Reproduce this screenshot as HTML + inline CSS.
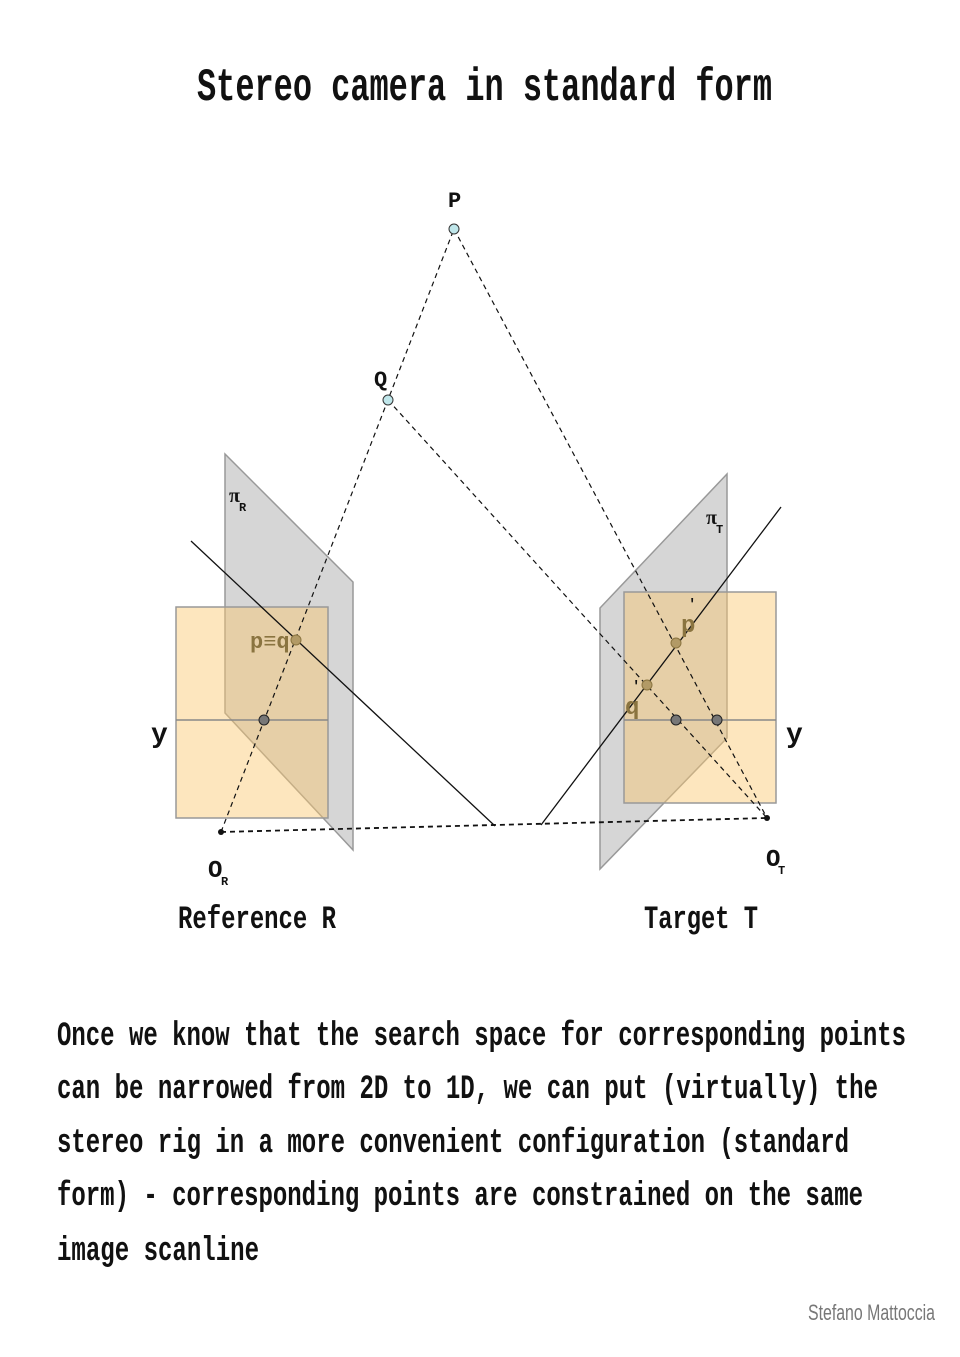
<!DOCTYPE html>
<html><head><meta charset="utf-8"><style>html,body{margin:0;padding:0;background:#fff}svg{display:block}</style></head>
<body>
<svg width="960" height="1357" viewBox="0 0 960 1357" xmlns="http://www.w3.org/2000/svg">
<g font-family="Liberation Mono, monospace" font-weight="bold" fill="#111">
<text x="197" y="100" font-size="46" textLength="575" lengthAdjust="spacingAndGlyphs">Stereo camera in standard form</text>
</g>
<!-- left plane -->
<polygon points="225,454 353,582 353,850 225,713" fill="#d6d6d6" stroke="#999" stroke-width="1.5"/>
<rect x="176" y="607" width="152" height="211" fill="rgb(250,200,110)" fill-opacity="0.45" stroke="#999" stroke-width="1.5"/>
<line x1="176" y1="720" x2="328" y2="720" stroke="#888" stroke-width="1.5"/>
<!-- right plane -->
<polygon points="727,474 727,738 600,869 600,608" fill="#d6d6d6" stroke="#999" stroke-width="1.5"/>
<rect x="624" y="592" width="152" height="211" fill="rgb(250,200,110)" fill-opacity="0.45" stroke="#999" stroke-width="1.5"/>
<line x1="624" y1="720" x2="776" y2="720" stroke="#888" stroke-width="1.5"/>
<!-- solid lines -->
<line x1="191" y1="541" x2="495" y2="826" stroke="#111" stroke-width="1.3"/>
<line x1="541" y1="825" x2="781" y2="507" stroke="#111" stroke-width="1.3"/>
<!-- dashed -->
<g stroke="#111" stroke-width="1.2" stroke-dasharray="5,4" fill="none">
<line x1="221" y1="832" x2="454" y2="229"/>
<line x1="454" y1="229" x2="767" y2="818"/>
<line x1="388" y1="400" x2="767" y2="818"/>
<line x1="221" y1="832" x2="767" y2="818" stroke-width="1.8"/>
</g>
<!-- points -->
<circle cx="454" cy="229" r="5" fill="#bfe6ea" stroke="#333"/>
<circle cx="388" cy="400" r="5" fill="#bfe6ea" stroke="#333"/>
<circle cx="264" cy="720" r="5" fill="#777" stroke="#222"/>
<circle cx="296" cy="640" r="5" fill="#b29a66" stroke="#8a7440"/>
<circle cx="676" cy="720" r="5" fill="#777" stroke="#222"/>
<circle cx="717" cy="720" r="5" fill="#777" stroke="#222"/>
<circle cx="676" cy="643" r="5" fill="#b29a66" stroke="#8a7440"/>
<circle cx="647" cy="685" r="5" fill="#b29a66" stroke="#8a7440"/>
<circle cx="221" cy="832" r="3" fill="#111"/>
<circle cx="767" cy="818" r="3" fill="#111"/>
<g font-family="Liberation Mono, monospace" font-weight="bold" fill="#111">
<text x="448" y="207" font-size="22">P</text>
<text x="374" y="386" font-size="22">Q</text>
<text x="229" y="502" font-size="20" font-family="Liberation Serif, serif">π</text><text x="239" y="511" font-size="12">R</text>
<text x="706" y="524" font-size="20" font-family="Liberation Serif, serif">π</text><text x="716" y="533" font-size="12">T</text>
<text x="250" y="648" font-size="22" fill="#8a7440">p≡q</text>
<text x="681" y="632" font-size="24" fill="#8a7440">p</text><text x="688" y="608" font-size="14">'</text>
<text x="625" y="714" font-size="24" fill="#8a7440">q</text><text x="632" y="690" font-size="14">'</text>
<text x="151" y="742" font-size="28">y</text>
<text x="786" y="742" font-size="28">y</text>
<text x="208" y="877" font-size="24">O</text><text x="221" y="885" font-size="12">R</text>
<text x="766" y="866" font-size="24">O</text><text x="778" y="874" font-size="12">T</text>
<text x="178" y="928" font-size="32" textLength="158" lengthAdjust="spacingAndGlyphs">Reference R</text>
<text x="644" y="928" font-size="32" textLength="114" lengthAdjust="spacingAndGlyphs">Target T</text>
<g font-size="34" font-weight="normal" style="font-weight:600">
<text x="57" y="1045" textLength="849" lengthAdjust="spacingAndGlyphs">Once we know that the search space for corresponding points</text>
<text x="57" y="1098" textLength="821" lengthAdjust="spacingAndGlyphs">can be narrowed from 2D to 1D, we can put (virtually) the</text>
<text x="57" y="1152" textLength="792" lengthAdjust="spacingAndGlyphs">stereo rig in a more convenient configuration (standard</text>
<text x="57" y="1205" textLength="806" lengthAdjust="spacingAndGlyphs">form) - corresponding points are constrained on the same</text>
<text x="57" y="1260" textLength="202" lengthAdjust="spacingAndGlyphs">image scanline</text>
</g>
</g>
<text x="808" y="1320" font-family="Liberation Sans, sans-serif" font-size="22" fill="#777" textLength="127" lengthAdjust="spacingAndGlyphs">Stefano Mattoccia</text>
</svg>
</body></html>
